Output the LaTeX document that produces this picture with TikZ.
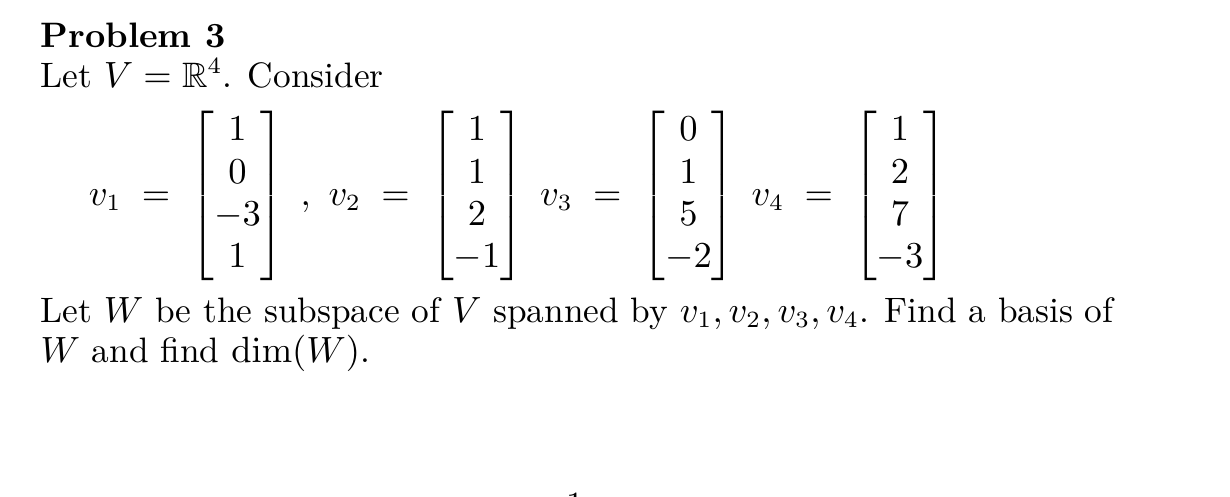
\documentclass[tikz,border=0pt]{standalone}
\usepackage{amsmath,amssymb}
\begin{document}
\begin{tikzpicture}[x=0.3pt,y=-0.3pt,txt/.style={anchor=base west,inner sep=0pt,font=\fontsize{10.6}{12.7}\selectfont}]
\clip (0,0) rectangle (1230,496);
\useasboundingbox (0,0) rectangle (1230,496);
\fill[white] (0,0) rectangle (1230,496);
\node[txt] (title) at (40,47) {\textbf{Problem 3}};
\node[txt] (l1) at (40,87) {Let $V=\mathbb{R}^4$. Consider};
\node[inner sep=0pt,font=\fontsize{10.6}{12.7}\selectfont] (eq) at (518,196) {$\displaystyle v_1\;=\;\begin{bmatrix}\;1\;\\0\\-3\\1\end{bmatrix}\;,\ v_2\;=\;\begin{bmatrix}\;1\;\\1\\2\\-1\end{bmatrix}\;v_3\;=\;\begin{bmatrix}\;0\;\\1\\5\\-2\end{bmatrix}\;v_4\;=\;\begin{bmatrix}\;1\;\\2\\7\\-3\end{bmatrix}$};
\node[txt] (l2) at (40,322) {Let $W$ be the subspace of $V$ spanned by $v_1,v_2,v_3,v_4$. Find a basis of};
\node[txt] (l3) at (40,362) {$W$ and find $\dim(W)$.};
\node[txt] (pg) at (566,516) {1};
\end{tikzpicture}
\end{document}
